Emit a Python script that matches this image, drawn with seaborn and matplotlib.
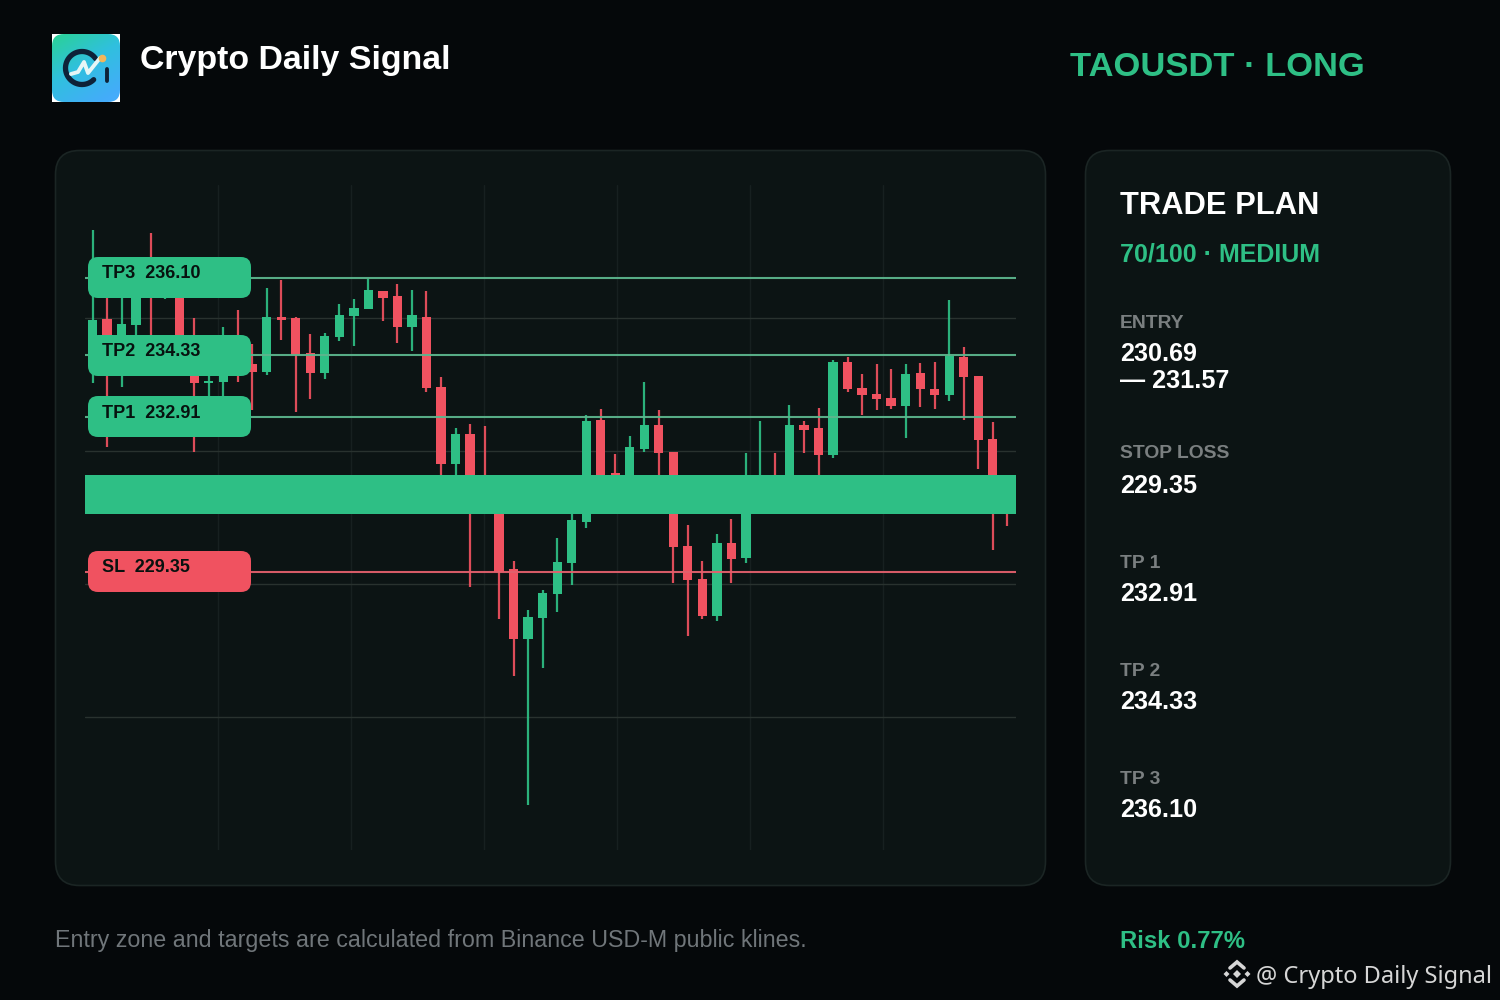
import numpy as np
import pandas as pd
import matplotlib
matplotlib.use("Agg")
import matplotlib.pyplot as plt
from matplotlib.patches import FancyBboxPatch, Polygon
import seaborn as sns

# ---- data ----
opens = [234.54,235.16,234.56,235.02,236.47,235.69,235.94,234.45,233.69,233.71,234.68,234.13,233.94,235.20,235.18,234.38,
         233.92,234.75,235.23,235.39,235.80,235.69,234.97,235.20,233.60,231.83,232.52,231.46,231.00,229.42,227.81,228.29,
         228.84,229.56,230.50,232.84,231.62,231.12,232.17,232.72,232.11,229.95,229.19,228.34,230.02,229.67,230.89,231.35,
         231.23,232.72,232.66,232.04,234.17,233.57,233.44,233.34,233.16,233.92,233.55,233.41,234.29,233.85,232.40,231.12]
highs = [237.20,235.82,235.71,236.28,237.13,236.28,236.17,235.18,234.45,234.97,235.37,234.58,235.87,236.05,235.20,234.81,
         234.84,235.50,235.62,236.08,235.80,235.96,235.82,235.80,233.83,232.66,232.75,232.70,231.23,229.60,228.48,228.94,
         230.13,230.77,232.95,233.09,232.06,232.47,233.71,233.07,232.11,230.43,229.60,230.22,230.57,232.08,232.82,232.08,
         233.18,232.82,233.11,234.22,234.29,233.90,234.13,234.01,234.13,234.15,234.17,235.59,234.52,233.85,232.79,231.23]
lows = [233.69,232.22,233.60,234.68,234.68,235.62,234.56,232.11,233.30,233.30,233.71,233.07,233.87,234.68,233.02,233.32,
        233.78,234.65,234.54,235.39,235.11,234.61,234.42,233.48,231.51,231.46,229.01,230.73,228.27,226.96,224.00,227.15,
        228.43,229.05,230.36,230.77,231.23,230.89,232.11,231.46,229.10,227.88,228.27,228.22,229.10,229.56,230.77,230.89,
        231.00,232.08,231.46,231.97,233.48,232.95,233.07,233.09,232.43,233.14,233.09,233.28,232.84,231.71,229.85,230.41]
closes = [235.14,234.68,235.04,235.94,235.82,235.94,234.68,233.69,233.74,234.22,233.94,233.94,235.20,235.14,234.33,233.92,
          234.77,235.25,235.41,235.82,235.64,234.97,235.25,233.57,231.83,232.52,231.00,230.89,229.35,227.81,228.32,228.87,
          229.58,230.54,232.82,231.00,231.46,232.22,232.72,232.08,229.92,229.17,228.34,230.02,229.65,231.12,231.46,231.00,
          232.72,232.61,232.04,234.17,233.55,233.41,233.32,233.16,233.90,233.55,233.41,234.31,233.83,232.38,231.00,230.77]

sl_price = 229.35
tp1_price = 232.91
tp2_price = 234.33
tp3_price = 236.10
entry_low = 230.69
entry_high = 231.57

label_texts = ["TP3  236.10", "TP2  234.33", "TP1  232.91", "SL  229.35"]
plan_heads = ["ENTRY", "STOP LOSS", "TP 1", "TP 2", "TP 3"]
plan_values = ["230.69\n— 231.57", "229.35", "232.91", "234.33", "236.10"]

BG = "#05080A"
PANEL = "#0C1414"
EDGE = "#1B2524"
GREEN = "#2EBF85"
RED = "#F05260"
HEAD = "#7A7F80"
SANS = "Liberation Sans"

sns.set_theme(style="dark", rc={"axes.facecolor": "none", "figure.facecolor": BG})
plt.rcParams["font.family"] = [SANS, "DejaVu Sans"]

fig = plt.figure(figsize=(15, 10), dpi=100, facecolor=BG)

def px_axes(z):
    a = fig.add_axes([0, 0, 1, 1], zorder=z)
    a.set_xlim(0, 1500)
    a.set_ylim(1000, 0)
    a.axis("off")
    return a

back = px_axes(0)
for x0, y0, x1, y1 in [(55.5, 150.5, 1045.5, 885.5), (1085.5, 150.5, 1450.5, 885.5)]:
    back.add_patch(FancyBboxPatch((x0 + 24, y0 + 24), x1 - x0 - 48, y1 - y0 - 48,
                                  boxstyle="round,pad=24,rounding_size=24",
                                  fc=PANEL, ec=EDGE, lw=1.2))

# ---- chart ----
ax = fig.add_axes([85 / 1500, 150 / 1000, 931 / 1500, 665 / 1000], zorder=1)
df = pd.DataFrame({"i": np.arange(len(opens)), "o": opens, "h": highs, "l": lows, "c": closes})
df["top"] = df[["o", "c"]].max(axis=1)
df["bot"] = df[["o", "c"]].min(axis=1)
df["up"] = df["c"] >= df["o"]
df["body"] = df["top"] - df["bot"]

for is_up, col in [(True, GREEN), (False, RED)]:
    sub = df[df["up"] == is_up]
    wick = sub.melt(id_vars="i", value_vars=["h", "l"], value_name="price").sort_values("i")
    sns.lineplot(data=wick, x="i", y="price", units="i", estimator=None, color=col,
                 lw=1.6, alpha=0.92, sort=False, legend=False, ax=ax, solid_capstyle="butt", zorder=3)
    sns.barplot(data=sub, x="i", y="body", bottom=sub["bot"].values, native_scale=True,
                color=col, saturation=1, width=0.64, errorbar=None, linewidth=0, ax=ax, zorder=4)

xmin, xmax = -0.517, 63.6
ymin, ymax = 222.97, 238.235
ax.set_xlim(xmin, xmax)
ax.set_ylim(ymin, ymax)
ax.set_xticks(np.linspace(xmin, xmax, 8)[1:-1])
ax.set_yticks(np.linspace(ymin, ymax, 6)[1:-1])
ax.tick_params(length=0, labelbottom=False, labelleft=False)
ax.set_xlabel("")
ax.set_ylabel("")
ax.grid(True, axis="y", color="#29322F", lw=1, zorder=1)
ax.grid(True, axis="x", color="#172020", lw=1, zorder=1)
ax.set_axisbelow(True)
for s in ax.spines.values():
    s.set_visible(False)

LEVEL_GREEN = "#5CB58D"
ax.axhline(tp3_price, color=LEVEL_GREEN, alpha=0.95, lw=1.5, zorder=5)
ax.axhline(tp2_price, color=LEVEL_GREEN, alpha=0.95, lw=1.5, zorder=5)
ax.axhline(tp1_price, color=LEVEL_GREEN, alpha=0.95, lw=1.5, zorder=5)
ax.axhline(sl_price, color="#E2606C", alpha=0.95, lw=1.5, zorder=5)
ax.axhspan(entry_low, entry_high, color=GREEN, lw=0, zorder=6)

# ---- overlay: labels, text, logos ----
top = px_axes(2)
boxes = [(257, GREEN), (335, GREEN), (396, GREEN), (551, RED)]
for (y, col), txt in zip(boxes, label_texts):
    top.add_patch(FancyBboxPatch((98, y + 10), 143, 21, boxstyle="round,pad=10,rounding_size=10",
                                 fc=col, ec="none"))
    top.text(102, y + 17, txt, fontsize=13, fontweight="bold", color="#07120F", va="center", ha="left")

top.text(140.5, 60, "Crypto Daily Signal", fontsize=24.4, fontweight="bold", color="white", va="center")
top.text(1070.5, 67, "TAOUSDT · LONG", fontsize=24.8, fontweight="bold", color=GREEN, va="center")
top.text(1120, 206, "TRADE PLAN", fontsize=22.2, fontweight="bold", color="white", va="center")
top.text(1120, 254, "70/100 · MEDIUM", fontsize=18, fontweight="bold", color=GREEN, va="center")

for txt, y in zip(plan_heads, [323, 454, 563, 671, 779]):
    top.text(1120, y, txt, fontsize=13.9, fontweight="bold", color=HEAD, va="center")
entry_lines = plan_values[0].split("\n")
top.text(1120, 354, entry_lines[0], fontsize=18.1, fontweight="bold", color="white", va="center")
top.text(1120, 381, entry_lines[1], fontsize=18.1, fontweight="bold", color="white", va="center")
for txt, y in zip(plan_values[1:], [486, 594, 702, 810]):
    top.text(1120, y, txt, fontsize=18.1, fontweight="bold", color="white", va="center")

top.text(55, 940, "Entry zone and targets are calculated from Binance USD-M public klines.",
         fontsize=16.75, color="#70767A", va="center")
top.text(1120, 941, "Risk 0.77%", fontsize=17.2, fontweight="bold", color=GREEN, va="center")
top.text(1256, 977, "@ Crypto Daily Signal", fontsize=17.0, family="Noto Sans", color="#D6D6D6", va="center")

# app logo
top.add_patch(plt.Rectangle((52, 34), 68, 68, fc="white", ec="none", zorder=1))
u, v = np.meshgrid(np.linspace(0, 1, 68), np.linspace(0, 1, 68))
t = np.clip((0.55 * u + 0.9 * v) / 1.3, 0, 1)
stops = np.array([[42, 210, 148], [48, 192, 222], [68, 172, 250]]) / 255
grad = np.stack([np.interp(t, [0, 0.5, 1], stops[:, k]) for k in range(3)], axis=-1)
img = top.imshow(grad, extent=(52, 120, 102, 34), aspect="auto", zorder=2, interpolation="bilinear")
clip = FancyBboxPatch((60, 42), 52, 52, boxstyle="round,pad=8,rounding_size=12", fc="none", ec="none",
                      transform=top.transData)
top.add_patch(clip)
img.set_clip_path(clip)
top.set_xlim(0, 1500)
top.set_ylim(1000, 0)
ang = np.radians(np.linspace(35, 315, 60))
top.plot(82 + 16.5 * np.cos(ang), 68 + 16.5 * np.sin(ang) * -1, color="#0E2238", lw=3.8, zorder=3,
         solid_capstyle="round")
top.plot([71, 78, 84, 88, 100], [74, 72, 62, 73, 58], color="#E6F6F6", lw=2.8, zorder=4)
top.plot([102], [58], "o", color="#F5B65A", ms=5.5, mew=0, zorder=5)
top.plot([106.5, 106.5], [69, 81], color="#0E2238", lw=2.8, zorder=4)

# exchange mark
cx, cy = 1237, 974
mark = "#D6D6D6"
top.add_patch(Polygon([(cx, cy - 4), (cx + 4, cy), (cx, cy + 4), (cx - 4, cy)], fc=mark, ec="none"))
for dx in (-10.5, 10.5):
    top.add_patch(Polygon([(cx + dx, cy - 3), (cx + dx + 3, cy), (cx + dx, cy + 3), (cx + dx - 3, cy)], fc=mark, ec="none"))
top.plot([cx - 7, cx, cx + 7], [cy - 6, cy - 12, cy - 6], color=mark, lw=2.6, solid_joinstyle="miter")
top.plot([cx - 7, cx, cx + 7], [cy + 6, cy + 12, cy + 6], color=mark, lw=2.6, solid_joinstyle="miter")

fig.savefig("out.png", dpi=100, facecolor=BG)
